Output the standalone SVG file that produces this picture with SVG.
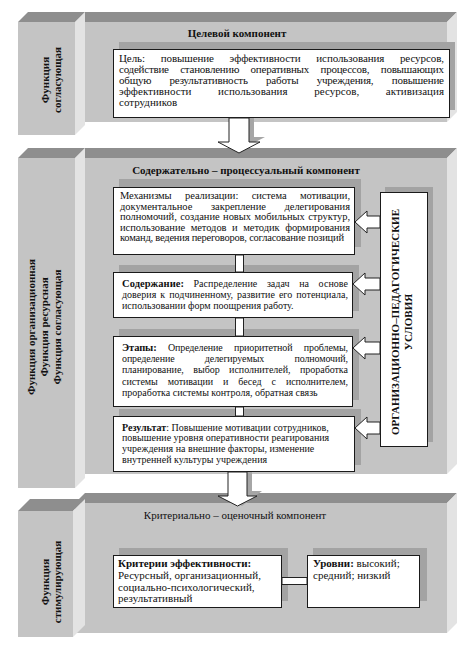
<svg xmlns="http://www.w3.org/2000/svg" width="474" height="654" viewBox="0 0 474 654">
<style>
.front{fill:#c4c4c4}
.top{fill:#8e8e8e}
.side{fill:#e3e3e3}
.shadow{fill:#a3a3a3}
.box{fill:#fff;stroke:#1a1a1a;stroke-width:1}
.arrow{fill:#fff;stroke:#222;stroke-width:1}
.ash{fill:#a6a6a6}
text{font-family:"Liberation Serif","Times New Roman",serif;fill:#111}
.b{font-weight:bold}
.f105{font-size:10.5px}
.f10{font-size:10px}
.f11{font-size:11px}
</style>
<rect width="474" height="654" fill="#fff"/>

<!-- Section 1 -->
<g id="panel-target">
<polygon class="top" points="75,22 85,12 457,12 447,22"/>
<rect class="front" x="75" y="22" width="372" height="100"/>
<polygon class="side" points="447,22 457,12 457,112 447,122"/>
<text class="b f11" x="237" y="37" text-anchor="middle">Целевой компонент</text>
</g>
<g id="func-1">
<polygon class="top" points="18,22 28,12 85,12 75,22"/>
<rect class="front" x="18" y="22" width="57" height="113"/>
<polygon class="side" points="75,22 85,12 85,125 75,135"/>
<text class="b f11" transform="translate(49,80) rotate(-90)" text-anchor="middle">Функция</text>
<text class="b f11" transform="translate(61,80) rotate(-90)" text-anchor="middle">согласующая</text>
</g>
<g id="goal">
<rect class="shadow" x="119" y="42" width="336" height="68"/>
<rect class="box" x="113.5" y="49.5" width="336" height="68"/>
<text class="f11" x="119" y="62" textLength="325" lengthAdjust="spacing" word-spacing="13">Цель: повышение эффективности использования ресурсов,</text>
<text class="f11" x="119" y="73" textLength="325" lengthAdjust="spacing" word-spacing="9">содействие становлению оперативных процессов, повышающих</text>
<text class="f11" x="119" y="84" textLength="325" lengthAdjust="spacing" word-spacing="15.8">общую результативность работы учреждения, повышение</text>
<text class="f11" x="119" y="95" textLength="325" lengthAdjust="spacing" word-spacing="23.8">эффективности использования ресурсов, активизация</text>
<text class="f11" x="119" y="106">сотрудников</text>
</g>

<!-- Section 2 -->
<g id="panel-process">
<polygon class="top" points="75,158 85,148 457,148 447,158"/>
<rect class="front" x="75" y="158" width="372" height="316"/>
<polygon class="side" points="447,158 457,148 457,464 447,474"/>
<text class="b f11" x="246" y="174" text-anchor="middle">Содержательно – процессуальный компонент</text>
</g>
<g id="func-2">
<polygon class="top" points="18,158 28,148 85,148 75,158"/>
<rect class="front" x="18" y="158" width="57" height="330"/>
<polygon class="side" points="75,158 85,148 85,478 75,488"/>
<text class="b f11" transform="translate(35,327) rotate(-90)" text-anchor="middle">Функция организационная</text>
<text class="b f11" transform="translate(48,327) rotate(-90)" text-anchor="middle">Функция ресурсная</text>
<text class="b f11" transform="translate(61,327) rotate(-90)" text-anchor="middle">Функция согласующая</text>
</g>
<g id="mechanisms">
<rect class="shadow" x="119" y="179" width="242" height="68"/>
<rect class="box" x="113.5" y="187.5" width="241" height="67"/>
<text class="f105" x="120" y="199" textLength="230" lengthAdjust="spacing" word-spacing="11">Механизмы реализации: система мотивации,</text>
<text class="f105" x="120" y="209.5" textLength="230" lengthAdjust="spacing" word-spacing="16">документальное закрепление делегирования</text>
<text class="f105" x="120" y="220" textLength="230" lengthAdjust="spacing" word-spacing="1">полномочий, создание новых мобильных структур,</text>
<text class="f105" x="120" y="230.5" textLength="230" lengthAdjust="spacing" word-spacing="3">использование методов и методик формирования</text>
<text class="f105" x="120" y="241" textLength="224" lengthAdjust="spacing">команд, ведения переговоров, согласование позиций</text>
</g>
<g id="content">
<rect class="shadow" x="119" y="265" width="240" height="46"/>
<rect class="box" x="113.5" y="272.5" width="239" height="45"/>
<text class="f10" x="122" y="287" textLength="226" lengthAdjust="spacing" word-spacing="7"><tspan class="b" font-size="10.5">Содержание:</tspan> Распределение задач на основе</text>
<text class="f10" x="122" y="298" textLength="226" lengthAdjust="spacing" word-spacing="1.5">доверия к подчиненному, развитие его потенциала,</text>
<text class="f10" x="122" y="309">использовании форм поощрения работу.</text>
</g>
<g id="stages">
<rect class="shadow" x="119" y="329" width="240" height="71"/>
<rect class="box" x="113.5" y="336.5" width="239" height="70"/>
<text class="f10" x="122" y="351" textLength="226" lengthAdjust="spacing" word-spacing="9"><tspan class="b" font-size="10.5">Этапы:</tspan> Определение приоритетной проблемы,</text>
<text class="f10" x="122" y="362" textLength="226" lengthAdjust="spacing" word-spacing="28">определение делегируемых полномочий,</text>
<text class="f10" x="122" y="373" textLength="226" lengthAdjust="spacing" word-spacing="7">планирование, выбор исполнителей, проработка</text>
<text class="f10" x="122" y="384.5" textLength="226" lengthAdjust="spacing" word-spacing="7.5">системы мотивации и бесед с исполнителем,</text>
<text class="f10" x="122" y="395.5">проработка системы контроля, обратная связь</text>
</g>
<g id="result">
<rect class="shadow" x="119" y="409" width="242" height="56"/>
<rect class="box" x="113.5" y="416.5" width="241" height="55"/>
<text class="f10" x="122" y="430.5"><tspan class="b">Результат</tspan>: Повышение мотивации сотрудников,</text>
<text class="f10" x="122" y="441">повышение уровня оперативности реагирования</text>
<text class="f10" x="122" y="452">учреждения на внешние факторы, изменение</text>
<text class="f10" x="122" y="462.5">внутренней культуры учреждения</text>
</g>
<g id="conditions">
<rect class="shadow" x="385" y="187" width="48" height="255"/>
<rect class="box" x="380.5" y="192.5" width="47" height="254"/>
<text class="b f11" transform="translate(399,322) rotate(-90)" text-anchor="middle" textLength="226" lengthAdjust="spacingAndGlyphs">ОРГАНИЗАЦИОННО–ПЕДАГОГИЧЕСКИЕ</text>
<text class="b f11" transform="translate(412,322) rotate(-90)" text-anchor="middle">УСЛОВИЯ</text>
</g>

<!-- Section 3 -->
<g id="panel-criteria">
<polygon class="top" points="75,503 85,493 457,493 447,503"/>
<rect class="front" x="75" y="503" width="372" height="130"/>
<polygon class="side" points="447,503 457,493 457,623 447,633"/>
<text class="f11" x="235" y="519" text-anchor="middle">Критериально – оценочный компонент</text>
</g>
<g id="func-3">
<polygon class="top" points="18,511 30,499 85,499 73,511"/>
<rect class="front" x="18" y="511" width="55" height="126"/>
<polygon class="side" points="73,511 85,499 85,625 73,637"/>
<text class="b f11" transform="translate(49,582) rotate(-90)" text-anchor="middle">Функция</text>
<text class="b f11" transform="translate(61,582) rotate(-90)" text-anchor="middle">стимулирующая</text>
</g>
<g id="criteria">
<rect class="shadow" x="119" y="548" width="169" height="53"/>
<rect class="box" x="113.5" y="555.5" width="168" height="52"/>
<text class="b f11" x="118" y="567">Критерии эффективности:</text>
<text class="f11" x="118" y="579">Ресурсный, организационный,</text>
<text class="f11" x="118" y="591">социально-психологический,</text>
<text class="f11" x="118" y="602">результативный</text>
</g>
<g id="levels">
<rect class="shadow" x="313" y="548" width="114" height="53"/>
<rect class="box" x="307.5" y="555.5" width="112" height="52"/>
<text class="f11" x="313" y="567"><tspan class="b">Уровни:</tspan> высокий;</text>
<text class="f11" x="313" y="579">средний; низкий</text>
</g>

<g id="connectors">
<polygon class="ash" points="234,118 254,118 254,137 265,137 244,148 240,146 249,142 249,118"/>
<polygon class="arrow" points="229,118 249,118 249,142 260,142 239,153 218,142 229,142"/>
<rect class="arrow" x="235.5" y="255" width="8" height="17"/>
<rect class="arrow" x="235.5" y="318" width="8" height="18"/>
<rect class="arrow" x="235.5" y="407" width="8" height="9"/>
<polygon class="arrow" points="355,222 367,211 367,216 380,216 380,228 367,228 367,233"/>
<polygon class="arrow" points="353,284 365,273 365,278 380,278 380,290 365,290 365,295"/>
<polygon class="arrow" points="353,348 365,337 365,342 380,342 380,354 365,354 365,359"/>
<polygon class="arrow" points="355,428 367,417 367,422 380,422 380,434 367,434 367,439"/>
<polygon class="ash" points="247,472 252,472 252,491 262,491 242,506 238,504 257,496 247,496"/>
<polygon class="arrow" points="228,472 247,472 247,496 257,496 237.5,506 218,496 228,496"/>
<rect class="arrow" x="282" y="577.5" width="25" height="7"/>
</g>
</svg>
